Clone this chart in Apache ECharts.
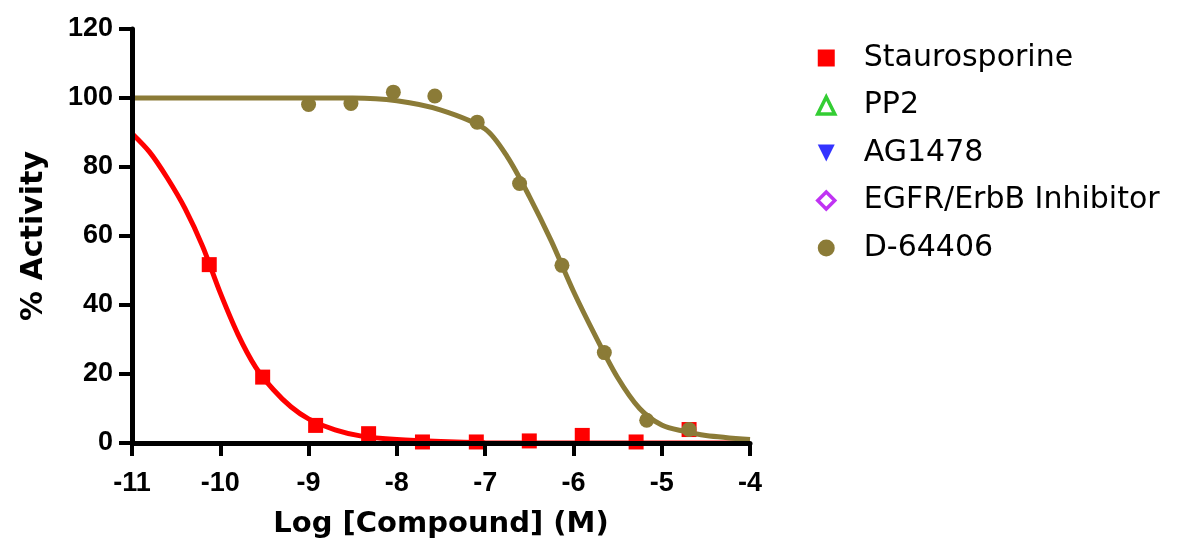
<!DOCTYPE html>
<html>
<head>
<meta charset="utf-8">
<title>% Activity vs Log [Compound]</title>
<script src="https://cdn.jsdelivr.net/npm/echarts@6/dist/echarts.min.js"></script>
<style>
  html, body { margin: 0; padding: 0; background: #fff; }
  #chart { width: 1196px; height: 554px; }
</style>
</head>
<body>
<div id="chart"></div>
<script>
// measured points, log [M] vs % activity
const stauroX = [-10.125, -9.52, -8.92, -8.32, -7.71, -7.10, -6.50, -5.90, -5.29, -4.69];
const stauroY = [51.7, 19.1, 5.1, 2.7, 0.3, 0.3, 0.6, 2.2, 0.3, 3.9];
const d64406X = [-9.0, -8.52, -8.04, -7.57, -7.09, -6.61, -6.13, -5.65, -5.17, -4.69];
const d64406Y = [98.1, 98.4, 101.7, 100.6, 93.0, 75.2, 51.5, 26.2, 6.6, 3.9];

// fitted curves
const stauroFitX = [-11, -10.8, -10.6, -10.4, -10.2, -10.0, -9.8, -9.6, -9.4, -9.2, -9.0, -8.7, -8.4, -8.0, -7.5, -7.0, -6, -5, -4];
const stauroFitY = [89.7, 84.3, 76.8, 68.0, 57.0, 43.5, 31.5, 22.0, 15.5, 10.5, 7.0, 3.8, 2.0, 1.0, 0.4, 0.1, 0, 0, 0];
const d64406FitX = [-11, -9, -8.5, -8.0, -7.5, -7.0, -6.75, -6.5, -6.25, -6.0, -5.75, -5.5, -5.25, -5.0, -4.75, -4.5, -4];
const d64406FitY = [100, 100, 100, 99.2, 96.5, 91.0, 83.0, 71.5, 58.5, 44.0, 31.0, 19.0, 10.0, 5.2, 3.4, 2.2, 1.0];

const legendNames = ['Staurosporine', 'PP2', 'AG1478', 'EGFR/ErbB Inhibitor', 'D-64406'];

const RED = '#ff0000';
const BROWN = '#8b7b37';
const GREEN = '#00c000';
const BLUE = '#0000ff';
const PURPLE = '#b000f0';

const pairs = (xs, ys) => xs.map((x, i) => [x, ys[i]]);

const chart = echarts.init(document.getElementById('chart'));

const titleFont = { fontFamily: 'DejaVu Sans', fontWeight: 'bold', color: '#000' };
const tickFont = { fontFamily: 'Liberation Sans, Arial, sans-serif', fontWeight: 'bold', color: '#000', fontSize: 27 };

chart.setOption({
  animation: false,
  backgroundColor: '#fff',
  grid: { left: 132, right: 446, top: 29, bottom: 111, outerBoundsMode: 'none' },
  legend: {
    orient: 'vertical',
    left: 811,
    top: 38,
    itemWidth: 17,
    itemHeight: 17,
    itemGap: 17.5,
    selectedMode: false,
    textStyle: {
      fontFamily: 'DejaVu Sans',
      fontSize: 30,
      lineHeight: 30,
      color: '#000',
      padding: [0, 0, 0, 24]
    },
    data: [
      { name: legendNames[0], icon: 'rect', itemStyle: { color: RED } },
      { name: legendNames[1], icon: 'triangle', itemStyle: { color: '#fff', borderColor: GREEN, borderWidth: 3.5 } },
      { name: legendNames[2], icon: 'path://M0,0L10,0L5,10Z', itemStyle: { color: BLUE } },
      { name: legendNames[3], icon: 'diamond', itemStyle: { color: '#fff', borderColor: PURPLE, borderWidth: 3.5 } },
      { name: legendNames[4], icon: 'circle', itemStyle: { color: BROWN } }
    ]
  },
  xAxis: {
    type: 'value',
    min: -11,
    max: -4,
    interval: 1,
    z: 5,
    name: 'Log [Compound] (M)',
    nameLocation: 'middle',
    nameGap: 67,
    nameTextStyle: Object.assign({ fontSize: 29 }, titleFont),
    axisLine: { onZero: false, lineStyle: { color: '#000', width: 5 } },
    axisTick: { length: 13, lineStyle: { color: '#000', width: 4 } },
    axisLabel: Object.assign({ margin: 27 }, tickFont),
    splitLine: { show: false }
  },
  yAxis: {
    type: 'value',
    min: 0,
    max: 120,
    interval: 20,
    z: 5,
    name: '% Activity',
    nameLocation: 'middle',
    nameGap: 83,
    nameRotate: 90,
    nameTextStyle: Object.assign({ fontSize: 30 }, titleFont),
    axisLine: { show: true, lineStyle: { color: '#000', width: 5 } },
    axisTick: { show: true, length: 13, lineStyle: { color: '#000', width: 4 } },
    axisLabel: Object.assign({ margin: 19 }, tickFont),
    splitLine: { show: false }
  },
  series: [
    {
      name: 'Staurosporine fit',
      type: 'line',
      data: pairs(stauroFitX, stauroFitY),
      smooth: 0.3,
      showSymbol: false,
      lineStyle: { color: RED, width: 5 },
      silent: true
    },
    {
      name: legendNames[0],
      type: 'scatter',
      symbol: 'rect',
      symbolSize: 15,
      itemStyle: { color: RED, opacity: 1 },
      data: pairs(stauroX, stauroY)
    },
    { name: legendNames[1], type: 'scatter', symbol: 'triangle', itemStyle: { color: GREEN }, data: [] },
    { name: legendNames[2], type: 'scatter', symbol: 'path://M0,0L10,0L5,10Z', itemStyle: { color: BLUE }, data: [] },
    { name: legendNames[3], type: 'scatter', symbol: 'diamond', itemStyle: { color: PURPLE }, data: [] },
    {
      name: 'D-64406 fit',
      type: 'line',
      data: pairs(d64406FitX, d64406FitY),
      smooth: 0.3,
      showSymbol: false,
      lineStyle: { color: BROWN, width: 5 },
      silent: true
    },
    {
      name: legendNames[4],
      type: 'scatter',
      symbol: 'circle',
      symbolSize: 15,
      itemStyle: { color: BROWN, opacity: 1 },
      data: pairs(d64406X, d64406Y)
    }
  ]
});

window.addEventListener('resize', () => chart.resize());
</script>
</body>
</html>
